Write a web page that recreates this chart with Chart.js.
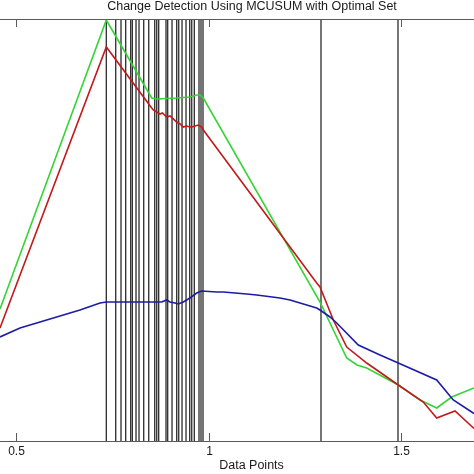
<!DOCTYPE html>
<html>
<head>
<meta charset="utf-8">
<title>Change Detection Using MCUSUM with Optimal Set</title>
<script src="https://cdn.jsdelivr.net/npm/chart.js@4/dist/chart.umd.min.js"></script>
<style>
	html, body { margin: 0; padding: 0; background: #fff; }
	canvas { display: block; }
</style>
</head>
<body>
<canvas id="mcusumChart" width="474" height="474"></canvas>
<script>
// Chart data (x = data points, y = statistic, arbitrary units)

const greenX = [0.4584, 0.7345, 0.8525, 0.8655, 0.9174, 0.9519, 0.9694, 0.9779, 0.9865, 1.2896, 1.3242, 1.359, 1.3857, 1.4109, 1.493, 1.5494, 1.5927, 1.6317, 1.6896];
const greenY = [1.32, 4.21, 3.43, 3.42, 3.43, 3.44, 3.46, 3.46, 3.43, 1.39, 1.11, 0.83, 0.76, 0.73, 0.56, 0.41, 0.33, 0.44, 0.53];

const redX = [0.4584, 0.7345, 0.8525, 0.8566, 0.8655, 0.874, 0.88, 0.8914, 0.9, 0.9174, 0.926, 0.9345, 0.943, 0.9519, 0.9566, 0.9735, 0.9823, 0.9865, 1.281, 1.2896, 1.3242, 1.359, 1.4109, 1.493, 1.5579, 1.5927, 1.6403, 1.6896];
const redY = [1.13, 3.94, 3.33, 3.31, 3.29, 3.27, 3.28, 3.24, 3.25, 3.19, 3.17, 3.14, 3.15, 3.14, 3.14, 3.16, 3.14, 3.11, 1.58, 1.54, 1.21, 0.94, 0.78, 0.56, 0.39, 0.23, 0.3, 0.125];

const blueX = [0.4584, 0.5104, 0.6662, 0.7182, 0.7345, 0.85, 0.8784, 0.8914, 0.9, 0.913, 0.9216, 0.9345, 0.9519, 0.9694, 0.9823, 1.0213, 1.0384, 1.0992, 1.1252, 1.1857, 1.2117, 1.2377, 1.281, 1.2896, 1.3156, 1.333, 1.3891, 1.4455, 1.493, 1.5927, 1.6358, 1.6896];
const blueY = [1.04, 1.13, 1.31, 1.38, 1.39, 1.39, 1.39, 1.41, 1.39, 1.38, 1.37, 1.39, 1.43, 1.48, 1.5, 1.49, 1.49, 1.47, 1.46, 1.43, 1.41, 1.38, 1.33, 1.31, 1.24, 1.18, 0.96, 0.86, 0.78, 0.61, 0.41, 0.275];

// detected change points (vertical lines)
const changeX = [0.7345, 0.759, 0.7727, 0.7849, 0.7979, 0.8021, 0.8117, 0.8195, 0.8317, 0.8447, 0.8603, 0.8655, 0.8706, 0.8896, 0.894, 0.9052, 0.9174, 0.9226, 0.9312, 0.9416, 0.9512, 0.9564, 0.9631, 0.9753, 0.9805, 0.9857, 1.2922, 1.4922];

const xTicks = [0.5, 1, 1.5];
const xMin = 0.4584;
const xMax = 1.6896;
const yMin = 0;
const yMax = 4.22;

// Get canvas
const chartCanvas = document.getElementById("mcusumChart").getContext("2d");

// turn two arrays into {x, y} points
function toPoints(xs, ys) {
	let pts = [];
	for (let i = 0; i < xs.length; i++) {
		pts.push({ x: xs[i], y: ys[i] });
	}
	return pts;
}

function seriesLine(xs, ys, color) {
	return {
		data: toPoints(xs, ys),
		borderColor: color,
		borderWidth: 1.6,
		pointRadius: 0,
		tension: 0,
		order: 1,
	};
}

let datasets = [
	seriesLine(blueX, blueY, "#1c1ca6"),
	seriesLine(redX, redY, "#c21a1a"),
	seriesLine(greenX, greenY, "#33d433"),
];

// one dataset per vertical line, bottom to top of the axes
for (let i = 0; i < changeX.length; i++) {
	datasets.push({
		data: [
			{ x: changeX[i], y: yMin },
			{ x: changeX[i], y: yMax },
		],
		borderColor: "#2b2b2b",
		borderWidth: 1.3,
		pointRadius: 0,
		order: 2,
	});
}

// MATLAB style box, inward ticks and texts
const matlabAxes = {
	id: "matlabAxes",
	afterDraw(chart) {
		const ctx = chart.ctx;
		const area = chart.chartArea;
		const xs = chart.scales.x;
		ctx.save();
		ctx.strokeStyle = "#5a5a5a";
		ctx.lineWidth = 1;
		ctx.beginPath();
		ctx.moveTo(0, area.top + 0.5);
		ctx.lineTo(chart.width, area.top + 0.5);
		ctx.moveTo(0, area.bottom + 0.5);
		ctx.lineTo(chart.width, area.bottom + 0.5);
		ctx.stroke();

		ctx.fillStyle = "#1a1a1a";
		ctx.font = "12px 'Liberation Sans', Arial, sans-serif";
		ctx.textAlign = "center";
		ctx.textBaseline = "alphabetic";
		xTicks.forEach(function (t) {
			let px = Math.round(xs.getPixelForValue(t)) + 0.5;
			ctx.beginPath();
			ctx.moveTo(px, area.bottom);
			ctx.lineTo(px, area.bottom - 8);
			ctx.moveTo(px, area.top);
			ctx.lineTo(px, area.top + 8);
			ctx.stroke();
			ctx.fillText(String(t), px, area.bottom + 14);
		});

		// axis title and chart title
		ctx.font = "12.5px 'Liberation Sans', Arial, sans-serif";
		ctx.fillText("Data Points", 251.5, 469);
		ctx.fillText("Change Detection Using MCUSUM with Optimal Set", 252, 10);
		ctx.restore();
	},
};

new Chart(chartCanvas, {
	type: "line",
	data: { datasets: datasets },
	options: {
		responsive: false,
		animation: false,
		devicePixelRatio: 1,
		layout: {
			padding: { top: 19, bottom: 33, left: 0, right: 0 },
		},
		scales: {
			x: { type: "linear", min: xMin, max: xMax, display: false },
			y: { type: "linear", min: yMin, max: yMax, display: false },
		},
		plugins: {
			legend: { display: false },
			tooltip: { enabled: false },
		},
	},
	plugins: [matlabAxes],
});
</script>
</body>
</html>
